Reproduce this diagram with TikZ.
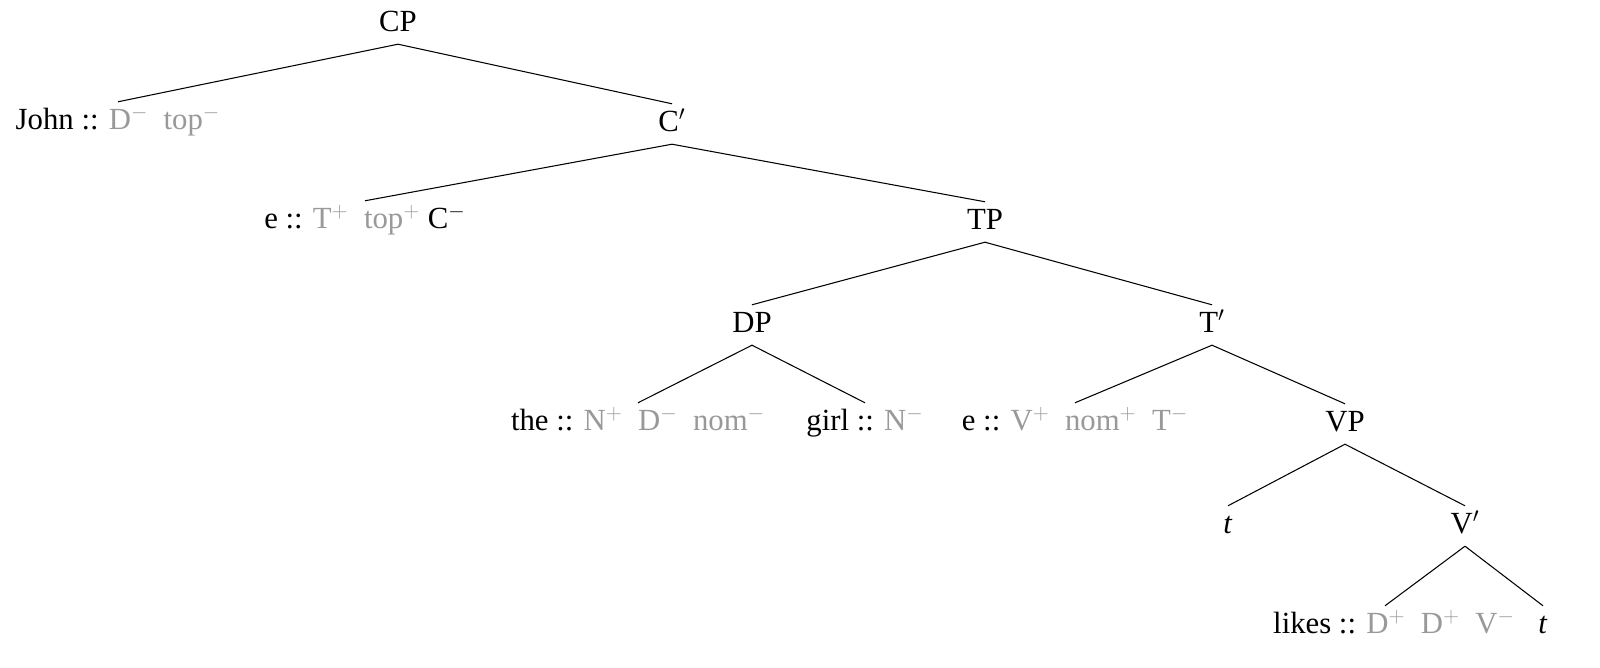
\documentclass[tikz,border=0pt]{standalone}
\usepackage{fontspec}
\setmainfont{Liberation Serif}
\begin{document}
\begin{tikzpicture}[x=0.02cm,y=-0.02cm,
  n/.style={font=\fontsize{17.5}{20}\selectfont, inner sep=0pt, text height=12pt, text depth=3pt, outer sep=4pt},
  e/.style={line width=0.6pt}]
\useasboundingbox (0,0) rectangle (1600,668);
\def\g#1{\textcolor{black!40}{#1}}
\node[n] (cp) at (398,24) {CP};
\node[n] (john) at (118,122) {John :: \g{D$^-$ \ top$^-$}};
\node[n] (c1) at (672,124) {C$'$};
\node[n] (ec) at (365,221) {e :: \g{T$^+$ \ top$^+$} C$^-$};
\node[n] (tp) at (985,222) {TP};
\node[n] (dp) at (752,325) {DP};
\node[n] (t1) at (1212,325) {T$'$};
\node[n] (the) at (638,423) {the :: \g{N$^+$ \ D$^-$ \ nom$^-$}};
\node[n] (girl) at (865,423) {girl :: \g{N$^-$}};
\node[n] (et) at (1075,423) {e :: \g{V$^+$ \ nom$^+$ \ T$^-$}};
\node[n] (vp) at (1345,424) {VP};
\node[n] (tr1) at (1228,526) {\textit{t}};
\node[n] (v1) at (1465,526) {V$'$};
\node[n] (likes) at (1394,626) {likes :: \g{D$^+$ \ D$^+$ \ V$^-$}};
\node[n] (tr2) at (1543,626) {\textit{t}};
\draw[e] (cp.south) -- (john.north);
\draw[e] (cp.south) -- (c1.north);
\draw[e] (c1.south) -- (ec.north);
\draw[e] (c1.south) -- (tp.north);
\draw[e] (tp.south) -- (dp.north);
\draw[e] (tp.south) -- (t1.north);
\draw[e] (dp.south) -- (the.north);
\draw[e] (dp.south) -- (girl.north);
\draw[e] (t1.south) -- (et.north);
\draw[e] (t1.south) -- (vp.north);
\draw[e] (vp.south) -- (tr1.north);
\draw[e] (vp.south) -- (v1.north);
\draw[e] (v1.south) -- ([xshift=-9*0.02cm]likes.north);
\draw[e] (v1.south) -- (tr2.north);
\end{tikzpicture}
\end{document}
